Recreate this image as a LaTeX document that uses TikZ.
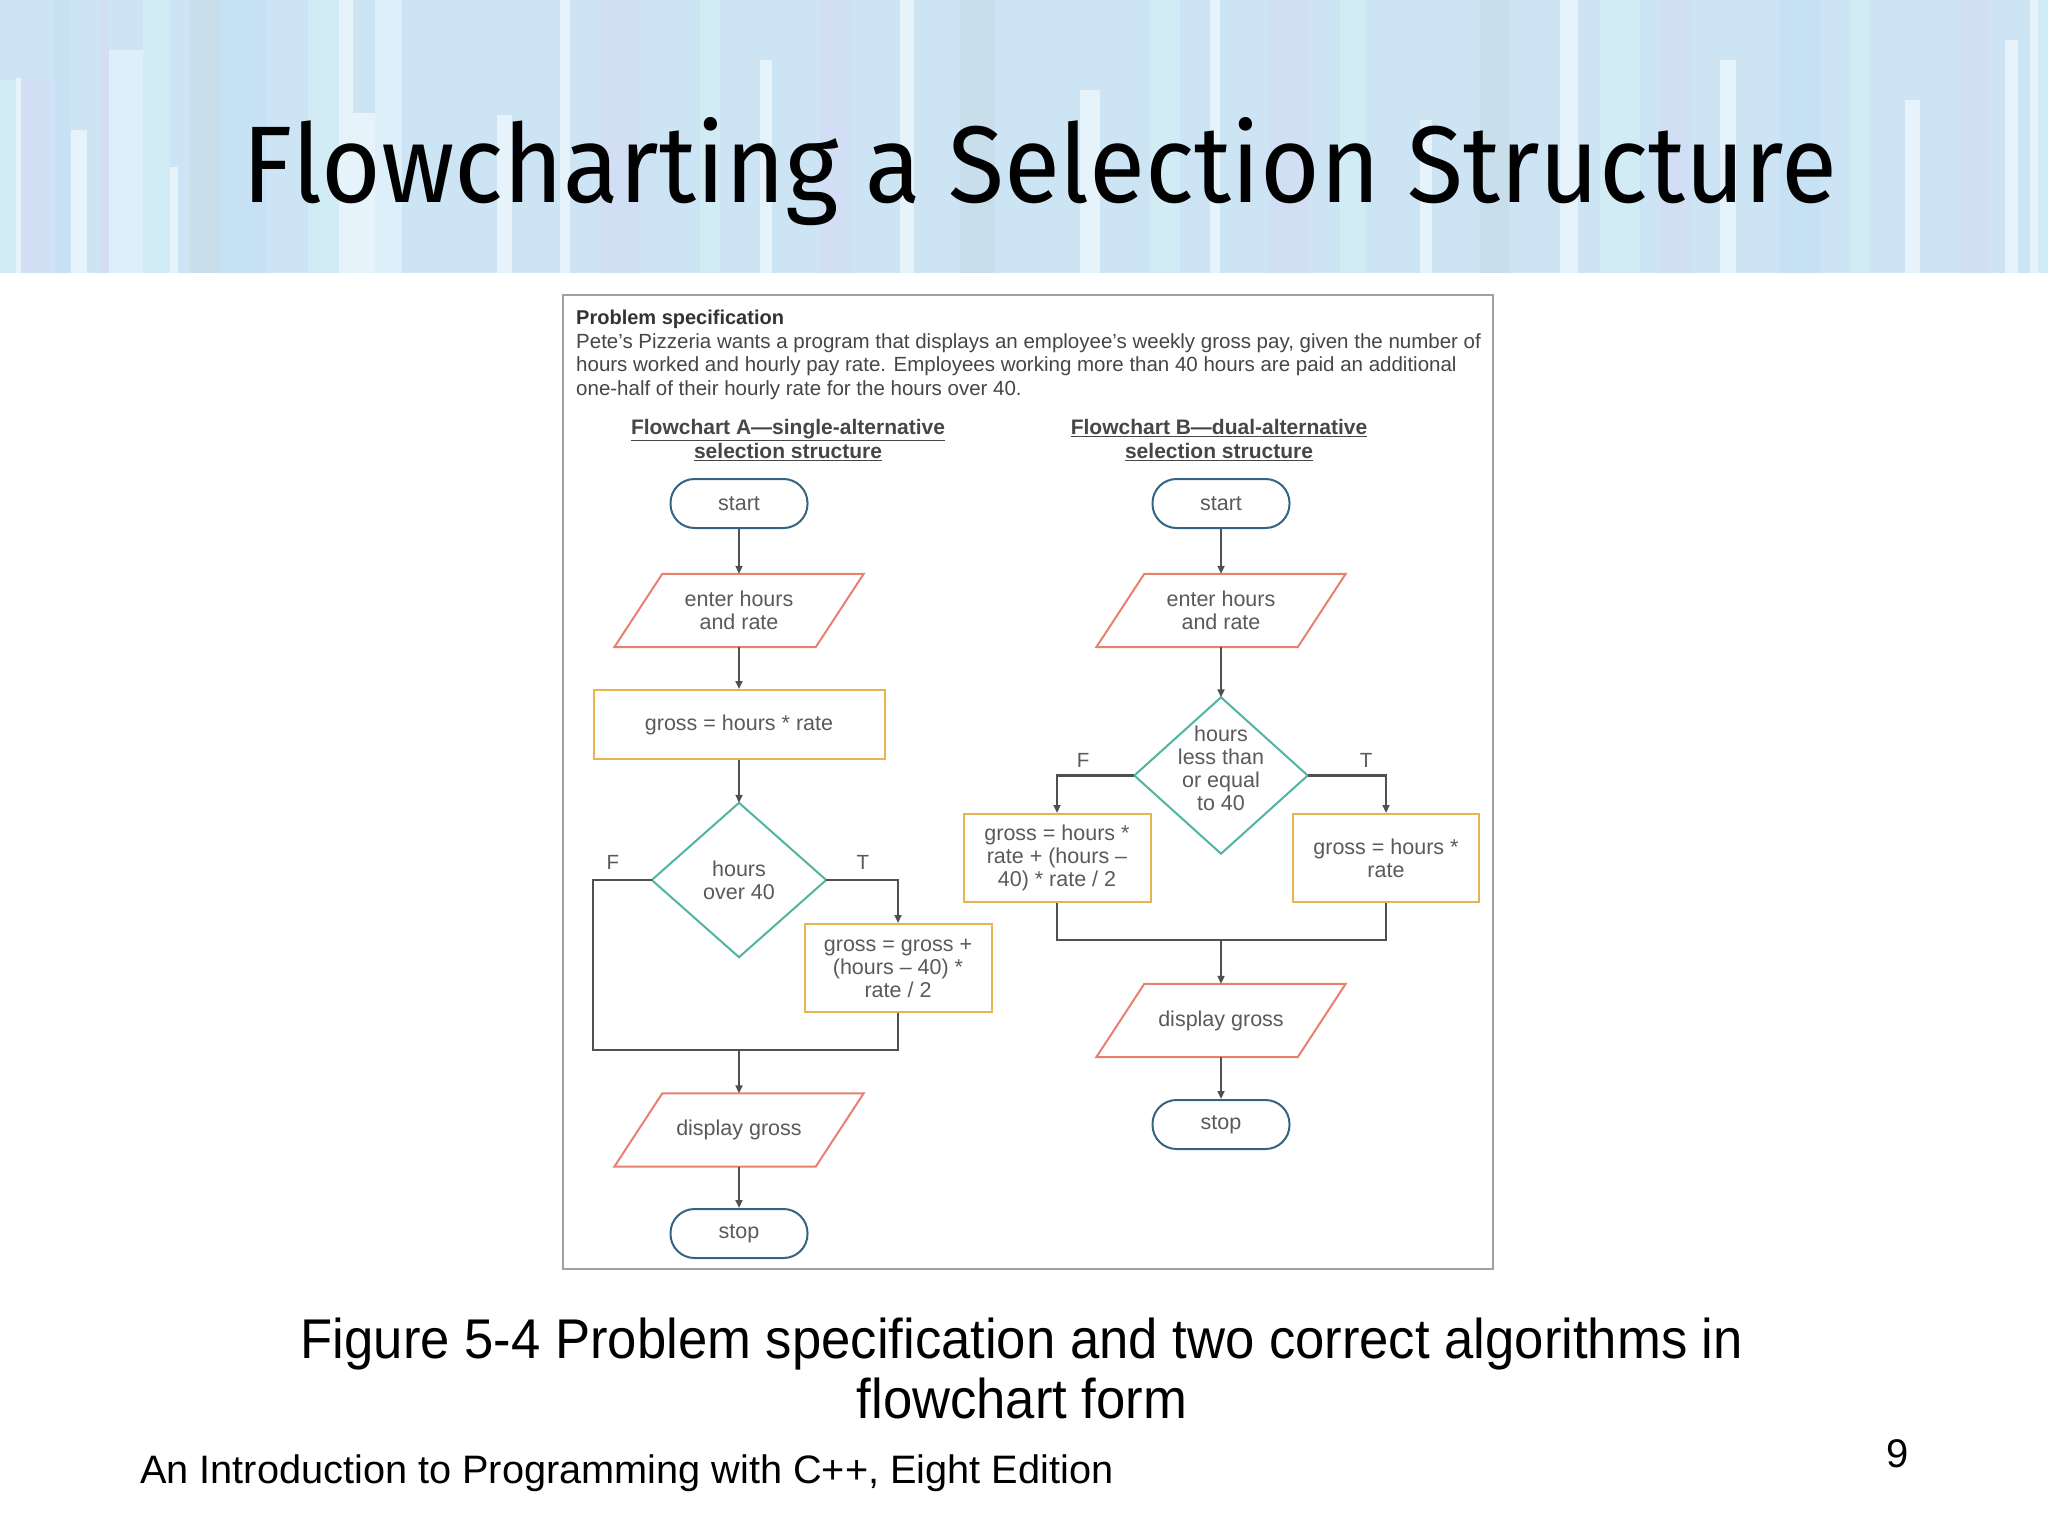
\documentclass[tikz,border=0pt]{standalone}
\usepackage{fontspec}
\setmainfont{Liberation Sans}
\newfontfamily\titlefont[FakeStretch=0.94]{Fira Sans}
\newfontfamily\chartfont{Liberation Sans}
\newfontfamily\capfont[FakeStretch=0.94]{Liberation Sans}
\usetikzlibrary{calc,arrows.meta}
\definecolor{termc}{RGB}{52,100,130}
\definecolor{ioc}{RGB}{232,128,110}
\definecolor{procc}{RGB}{232,180,80}
\definecolor{decc}{RGB}{80,180,160}
\definecolor{connc}{RGB}{80,80,80}
\definecolor{txtc}{RGB}{90,90,90}
\definecolor{spect}{RGB}{70,70,70}
\definecolor{framec}{RGB}{160,160,160}
\definecolor{bannerbase}{RGB}{204,228,244}
\definecolor{stW}{RGB}{240,249,253}
\definecolor{stWb}{RGB}{228,244,251}
\definecolor{stC}{RGB}{212,240,244}
\definecolor{stL}{RGB}{212,220,244}
\definecolor{stG}{RGB}{200,220,232}
\definecolor{stB}{RGB}{196,224,245}
\tikzset{
  chart/.style={font=\chartfont\fontsize{21.5}{23}\selectfont, text=txtc, align=center},
  term/.style={chart, draw=termc, line width=2pt, rounded corners=24pt, minimum width=137pt, minimum height=49pt, inner sep=0pt},
  proc/.style={chart, draw=procc, line width=2pt, inner sep=0pt},
  iotext/.style={chart, minimum width=249pt, minimum height=73pt, inner sep=0pt},
  iodraw/.style={draw=ioc, line width=2pt},
  dectext/.style={inner sep=0pt},
  decdraw/.style={draw=decc, line width=2pt},
  conn/.style={draw=connc, line width=2.5pt},
  arr/.style={conn, -{Triangle[length=8pt,width=7pt]}},
  lab/.style={font=\chartfont\fontsize{20.5}{22}\selectfont, text=txtc},
  spec/.style={anchor=base west, font=\fontsize{20.5}{22}\selectfont, text=spect, inner sep=0pt},
  head/.style={font=\bfseries\fontsize{21}{24}\selectfont, text=spect, align=center, inner sep=0pt}
}
\newcommand\iobox[4]{%
  \node[iotext] (#1) at (#2,#3) {#4};
  \draw[iodraw] ($(#1.north west)+(48,0)$) -- (#1.north east) -- ($(#1.south east)+(-48,0)$) -- (#1.south west) -- cycle;}
% name, x, y, width, height, text offset, text
\newcommand\decbox[7]{%
  \node[dectext, minimum width=#4pt, minimum height=#5pt] (#1) at (#2,#3) {};
  \draw[decdraw] (#1.north) -- (#1.east) -- (#1.south) -- (#1.west) -- cycle;
  \node[chart, inner sep=0pt] (#1t) at ($(#1)+(0,#6)$) {#7};}
\begin{document}
\begin{tikzpicture}[x=1pt,y=-1pt]
\useasboundingbox (0,0) rectangle (2048,1536);
\fill[white] (0,0) rectangle (2048,1536);
% banner
\fill[bannerbase] (0,0) rectangle (2048,273);
\foreach \sx/\sw/\sy/\cl in {0/16/80/stC, 16/5/78/stW, 21/30/80/stL, 55/15/0/stB, 71/16/130/stW, 100/9/0/stL, 109/34/50/stWb, 143/27/0/stC, 170/8/167/stW, 190/30/0/stG, 220/45/0/stB, 308/31/0/stC, 339/14/0/stW, 353/22/113/stW, 375/27/0/stWb, 497/15/115/stW, 560/10/0/stW, 600/40/0/stL, 700/20/0/stC, 760/12/60/stW, 820/30/0/stL, 900/14/0/stW, 960/35/0/stG, 1080/20/90/stW, 1150/30/0/stC, 1210/10/0/stW, 1270/40/0/stL, 1340/25/0/stC, 1420/12/120/stW, 1480/30/0/stG, 1560/18/0/stW, 1600/40/0/stC, 1660/30/0/stL, 1720/16/60/stW, 1780/40/0/stB, 1850/20/0/stC, 1905/15/100/stW, 1960/30/0/stL, 2005/13/40/stW, 2030/8/0/stW, 2038/10/0/stC}
  {\fill[\cl, opacity=0.75] (\sx,\sy) rectangle (\sx+\sw,273);}
\node[anchor=base, inner sep=0pt, font=\titlefont\fontsize{109}{120}\selectfont] (title) at (1040,202) {Flowcharting a Selection Structure};
% figure frame
\draw[framec, line width=2pt] (563,295) rectangle (1493,1269);
\node[spec, font=\bfseries\fontsize{20}{22}\selectfont, text=black!80] (ps) at (576,324) {Problem specification};
\node[spec] (l1) at (576,348) {Pete's Pizzeria wants a program that displays an employee's weekly gross pay, given the number of};
\node[spec] (l2) at (576,371) {hours worked and hourly pay rate. Employees working more than 40 hours are paid an additional};
\node[spec] (l3) at (576,395) {one-half of their hourly rate for the hours over 40.};
\node[head] (hA) at (788,440) {\underline{Flowchart A---single-alternative}\\\underline{selection structure}};
\node[head] (hB) at (1219,440) {\underline{Flowchart B---dual-alternative}\\\underline{selection structure}};
% flowchart A
\node[term] (sA) at (739,503.5) {start};
\iobox{iA}{739}{610.5}{enter hours\\and rate}
\node[proc, minimum width=291pt, minimum height=69pt] (pA) at (739,724.5) {gross = hours * rate};
\decbox{dA}{739}{880}{174}{154}{0}{hours\\over 40}
\node[proc, minimum width=187pt, minimum height=88pt] (tA) at (898,968) {gross = gross +\\(hours – 40) *\\rate / 2};
\coordinate (jA) at (739,1050);
\coordinate (fA) at (593,1050);
\iobox{oA}{739}{1130}{display gross}
\node[term] (eA) at (739,1233.5) {stop};
\draw[arr] (sA) -- (iA);
\draw[arr] (iA) -- (pA);
\draw[arr] (pA) -- (dA);
\draw[arr] (dA.east) -| (tA.north);
\draw[conn] (dA.west) -| (fA) -- (tA.south |- fA) -- (tA.south);
\draw[arr] (jA) -- (oA);
\draw[arr] (oA) -- (eA);
\node[lab] (lfA) at (613,862) {F};
\node[lab] (ltA) at (863,862) {T};
% flowchart B
\node[term] (sB) at (1221,503.5) {start};
\iobox{iB}{1221}{610.5}{enter hours\\and rate}
\decbox{dB}{1221}{775.5}{173}{156}{-7}{hours\\less than\\or equal\\to 40}
\node[proc, minimum width=187pt, minimum height=88pt] (fB) at (1057,858) {gross = hours *\\rate + (hours –\\40) * rate / 2};
\node[proc, minimum width=186pt, minimum height=88pt] (tB) at (1386,858) {gross = hours *\\rate};
\coordinate (jB) at (1221,940);
\iobox{oB}{1221}{1020.5}{display gross}
\node[term] (eB) at (1221,1124.5) {stop};
\draw[arr] (sB) -- (iB);
\draw[arr] (iB) -- (dB);
\draw[arr] (dB.west) -| (fB.north);
\draw[arr] (dB.east) -| (tB.north);
\draw[conn] (fB.south) |- (jB) -| (tB.south);
\draw[arr] (jB) -- (oB);
\draw[arr] (oB) -- (eB);
\node[lab] (lfB) at (1083,760) {F};
\node[lab] (ltB) at (1366,760) {T};
% caption and footer
\node[anchor=base, inner sep=0pt, font=\capfont\fontsize{56}{60}\selectfont] (cap1) at (1022,1358) {Figure 5-4 Problem specification and two correct algorithms in};
\node[anchor=base, inner sep=0pt, font=\capfont\fontsize{56}{60}\selectfont] (cap2) at (1022,1418) {flowchart form};
\node[anchor=base west, inner sep=0pt, font=\fontsize{39.7}{44}\selectfont] (foot) at (140,1483) {An Introduction to Programming with C++, Eight Edition};
\node[anchor=base, inner sep=0pt, font=\fontsize{40}{44}\selectfont] (pg) at (1898,1467) {9};
\end{tikzpicture}
\end{document}
